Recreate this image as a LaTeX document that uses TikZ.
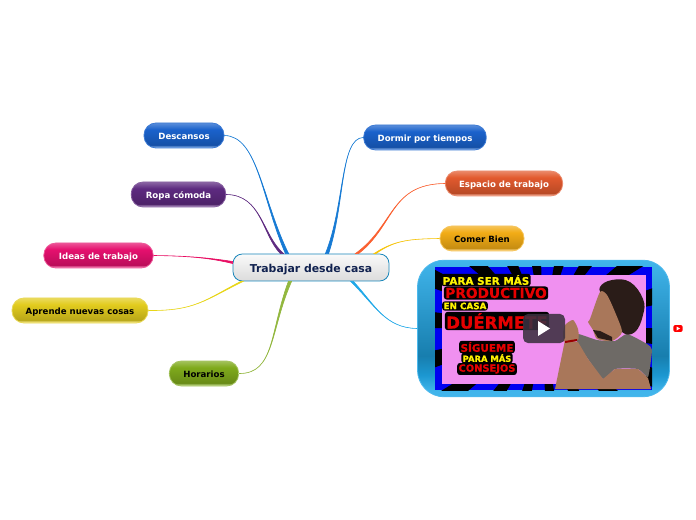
\documentclass[tikz,border=0pt]{standalone}
\usepackage{fontspec}
\usepackage{xcolor}
\setmainfont{DejaVu Sans}[BoldFont=DejaVu Sans Bold]
\newfontfamily\thumbfont{DejaVu Sans Bold}[FakeBold=.9]
\usetikzlibrary{shapes,arrows}
\definecolor{cblue}{HTML}{1A62CC}
\definecolor{cpurple}{HTML}{5E2A80}
\definecolor{cpink}{HTML}{E5106E}
\definecolor{cyellow}{HTML}{E2CC1E}
\definecolor{cgreen}{HTML}{7FAA1C}
\definecolor{corange}{HTML}{E25A2E}
\definecolor{clinkorange}{HTML}{FA6030}
\definecolor{camber}{HTML}{F2AC16}
\definecolor{ccyan}{HTML}{1FA8E8}
\definecolor{cnavy}{HTML}{10214F}
\definecolor{cskin}{HTML}{A9775A}
\definecolor{cshirt}{HTML}{6E6A66}
\definecolor{chair}{HTML}{2A1C18}
\definecolor{cpage}{HTML}{F090F0}
\definecolor{cplay}{HTML}{3C3040}
\newcommand{\topicshading}[2]{\pgfdeclareverticalshading{#1}{100bp}{color(0bp)=(#2!55!white); color(27bp)=(#2!55!white); color(31bp)=(#2!82!black); color(62bp)=(#2); color(75bp)=(#2!72!white); color(100bp)=(#2!72!white)}}
\topicshading{sblue}{cblue}
\topicshading{spurple}{cpurple}
\topicshading{spink}{cpink}
\topicshading{syellow}{cyellow}
\topicshading{sgreen}{cgreen}
\topicshading{sorange}{corange}
\topicshading{samber}{camber}
\pgfdeclareverticalshading{svideo}{100bp}{color(0bp)=(ccyan!85!white); color(27bp)=(ccyan!85!white); color(33bp)=(ccyan!90!black); color(40bp)=(ccyan!75!black); color(75bp)=(ccyan!85!white); color(100bp)=(ccyan)}
\pgfdeclareverticalshading{scentral}{100bp}{color(0bp)=(black!14); color(25bp)=(black!14); color(50bp)=(black!8); color(75bp)=(black!2); color(100bp)=(black!2)}
\tikzstyle{topic} = [rectangle,rounded corners=9pt,minimum height=18.75pt,inner sep=0pt,text height=6pt,text depth=0pt,text centered,line width=.6pt,font=\fontsize{6.45}{8}\selectfont\bfseries]
\tikzstyle{light} = [topic,text=white]
\tikzstyle{dark} = [topic,text=black]
\tikzstyle{central} = [rectangle,rounded corners=7pt,minimum height=20.25pt,inner sep=0pt,text height=7.2pt,text depth=0pt,shading=scentral,draw=ccyan!80!black,line width=.6pt,text=cnavy,font=\fontsize{8.15}{10}\selectfont\bfseries]
\tikzstyle{thumbbar} = [fill=black,rounded corners=2pt,inner xsep=1pt,inner ysep=1pt,font=\thumbfont]
\newcommand{\branch}[7]{\draw [#1,fill=#1,line width=.45pt] (#2) .. controls (#3) and (#4) .. ([shift={(#6)}]#5) -- ([shift={(#7)}]#5) .. controls (#4) and (#3) .. (#2);}
\begin{document}
\begin{tikzpicture}[x=.75pt,y=-.75pt]
\useasboundingbox (0,0) rectangle (696,520);
\fill [white] (0,0) rectangle (696,520);

\node (central) [central,minimum width=117pt] at (311,267.5) {Trabajar desde casa};
\node (descansos) [light,shading=sblue,draw=cblue!85!white,minimum width=60pt] at (184,135.5) {Descansos};
\node (ropa) [light,shading=spurple,draw=cpurple!75!white,minimum width=71pt] at (178.5,194.5) {Ropa cómoda};
\node (ideas) [light,shading=spink,draw=cpink!70!white,minimum width=82pt] at (98.5,255.5) {Ideas de trabajo};
\node (aprende) [dark,shading=syellow,draw=cyellow!75!white,minimum width=102pt] at (80,310.5) {Aprende nuevas cosas};
\node (horarios) [dark,shading=sgreen,draw=cgreen!70!white,minimum width=52pt] at (204,373.5) {Horarios};
\node (dormir) [light,shading=sblue,draw=cblue!85!white,minimum width=92pt] at (425,137.5) {Dormir por tiempos};
\node (espacio) [light,shading=sorange,draw=corange!70!white,minimum width=88pt] at (504,183.5) {Espacio de trabajo};
\node (comer) [dark,shading=samber,draw=camber!70!white,minimum width=63pt] at (482,238.5) {Comer Bien};
\node (video) [rectangle,rounded corners=20pt,minimum width=189pt,minimum height=102.5pt,inner sep=0pt,shading=svideo,draw=ccyan!80!white,line width=.6pt] at (543.5,328.5) {};

\branch{cblue!85!cyan}{descansos.east}{258,136}{262,200}{central.north}{-25.6,0}{-22.4,0}
\branch{cpurple}{ropa.east}{262,195}{262,235}{central.north}{-30.6,0}{-27.4,0}
\branch{cblue!85!cyan}{dormir.west}{340,138}{345,205}{central.north}{14.4,0}{17.6,0}
\branch{clinkorange}{espacio.west}{390,184}{395,225}{central.north}{44.4,0}{47.6,0}
\branch{camber!70!yellow}{comer.west}{410,239}{395,240}{central.north}{63,0}{65,0}
\branch{cpink!90!red}{ideas.east}{190,256}{210,258}{central.west}{0,-6}{0,-4}
\branch{cyellow!80!yellow}{aprende.east}{195,311}{205,300}{central.south}{-70.2,0}{-67.8,0}
\branch{cgreen!85!white}{horarios.east}{275,374}{270,330}{central.south}{-22.6,0}{-19.4,0}
\branch{ccyan}{video.west}{385,328}{375,305}{central.south}{39.6,0}{42.4,0}

% vignette
\begin{scope}
\clip (435,267) rectangle (652,390);
\fill [blue!94!black] (435,267) rectangle (652,390);
\foreach \a in {0,20,...,340} {
  \fill [black] (543,328) -- ++(\a:260) -- ++(\a+90:38) -- cycle;
}
\end{scope}
\fill [cpage] (442,275) rectangle (646,384);
% man
\fill [cshirt] plot [smooth cycle,tension=.3] coordinates {(578,334) (597,340) (615,341) (627,334) (647,344) (652,350) (648,377) (638,369) (615,369) (603,379) (588,359) (577,342)};
\fill [cskin] (565,340) -- (555,389) -- (651,389) -- (648,378) -- (638,369) -- (615,369) -- (603,379) -- (588,359) -- (578,342) -- cycle;
\fill [cskin] plot [smooth cycle,tension=.4] coordinates {(565,325) (573,320) (578,329) (578,340) (565,342) (563,334)};
\fill [chair] plot [smooth cycle,tension=.7] coordinates {(600,287) (612,280) (630,282) (643,299) (643,315) (635,332) (622,332) (612,312) (603,297)};
\fill [cskin] plot [smooth cycle,tension=.4] coordinates {(600,292) (590,319) (588,322) (593,330) (597,339) (612,341) (622,332) (615,312) (607,295)};
\fill [chair] (593,330) -- (600,331) -- (612,337) -- (612,341) -- (598,338) -- cycle;
\fill [red!60!black] (565,341) -- (577,339) -- (577,341) -- (565,343) -- cycle;
\node (l1) [thumbbar] at (486,280) {\fontsize{7.8}{8}\selectfont\color{yellow}PARA SER MÁS};
\node (l2) [thumbbar] at (496,293) {\fontsize{10.3}{11}\selectfont\color{red!90!black}PRODUCTIVO};
\node (l3) [thumbbar] at (465,306) {\fontsize{6.6}{8}\selectfont\color{yellow}EN CASA};
\node (l4) [thumbbar] at (497,321) {\fontsize{12.4}{14}\selectfont\color{red!90!black}DUÉRMETE};
\node (l5) [thumbbar] at (487,347) {\fontsize{7.8}{10}\selectfont\color{red!90!black}SÍGUEME};
\node (l6) [thumbbar] at (487,358) {\fontsize{6.3}{8}\selectfont\color{yellow}PARA MÁS};
\node (l7) [thumbbar] at (487,369) {\fontsize{7.4}{10}\selectfont\color{red!90!black}CONSEJOS};
% play button
\node (play) [rectangle,rounded corners=4pt,minimum width=31.5pt,minimum height=22pt,inner sep=0pt,fill=cplay,fill opacity=.88] at (544,328.5) {};
\fill [white] (538,321) -- (550,328.5) -- (538,336) -- cycle;
% youtube mark
\node (yt) [rectangle,rounded corners=1.5pt,minimum width=7pt,minimum height=5.2pt,inner sep=0pt,fill=red] at (678,328.5) {};
\fill [white] (676.6,326.5) -- (680,328.5) -- (676.6,330.5) -- cycle;
\end{tikzpicture}
\end{document}
